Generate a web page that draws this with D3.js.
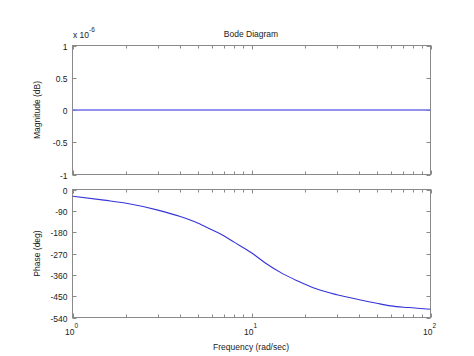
<!DOCTYPE html>
<html>
<head>
<meta charset="utf-8">
<script src="https://cdn.jsdelivr.net/npm/d3@7"></script>
<style>
  body { margin: 0; background: #fff; }
  text { font-family: "Liberation Sans", Arial, sans-serif; fill: #222; }
</style>
</head>
<body>
<script>
// frequencies (rad/sec) and read-off response values
var freq = [1, 1.5, 2, 3, 4, 5, 6, 7, 8, 10, 12, 15, 18, 23, 30, 40, 50, 60, 75, 100];
var phase = [-28, -45, -58, -87, -114, -141, -170, -195, -222, -267, -311, -356, -385, -419, -444, -465, -480, -491, -498, -505];
var magnitude = [0, 0, 0, 0, 0, 0, 0, 0, 0, 0, 0, 0, 0, 0, 0, 0, 0, 0, 0, 0];
var magTicks = [-1, -0.5, 0, 0.5, 1];
var phaseTicks = [0, -90, -180, -270, -360, -450, -540];
var decades = [1, 10, 100];

var W = 474, H = 356;
var left = 72.5, right = 430.5;
var top1 = 45.5, bot1 = 174.5, top2 = 189.5, bot2 = 317.5;

var svg = d3.select("body").append("svg")
    .attr("width", W)
    .attr("height", H);

var x = d3.scaleLog().domain([1, 100]).range([left, right]);
var yMag = d3.scaleLinear().domain([-1, 1]).range([bot1, top1]);
var yPh = d3.scaleLinear().domain([-540, 0]).range([bot2, top2]);

var minor = [];
[1, 10].forEach(function(d) {
    for (var k = 2; k <= 9; k++) minor.push(d * k);
});

function frame(yScale, ticks, y0, y1, fmt) {
    var g = svg.append("g");
    g.append("rect")
        .attr("x", left).attr("y", y0)
        .attr("width", right - left).attr("height", y1 - y0)
        .attr("fill", "none").attr("stroke", "#8a8a8a");
    // x ticks top and bottom
    var xt = decades.map(function(d) { return { v: d, len: 4 }; })
        .concat(minor.map(function(d) { return { v: d, len: 3 }; }));
    xt.forEach(function(t) {
        var px = Math.round(x(t.v)) + 0.5;
        g.append("line").attr("x1", px).attr("x2", px).attr("y1", y1).attr("y2", y1 - t.len)
            .attr("stroke", "#8a8a8a");
        g.append("line").attr("x1", px).attr("x2", px).attr("y1", y0).attr("y2", y0 + t.len)
            .attr("stroke", "#8a8a8a");
    });
    ticks.forEach(function(t) {
        var py = Math.round(yScale(t)) + 0.5;
        g.append("line").attr("x1", left).attr("x2", left + 4).attr("y1", py).attr("y2", py)
            .attr("stroke", "#8a8a8a");
        g.append("line").attr("x1", right).attr("x2", right - 4).attr("y1", py).attr("y2", py)
            .attr("stroke", "#8a8a8a");
        g.append("text")
            .attr("x", left - 5).attr("y", py + 3)
            .attr("text-anchor", "end")
            .attr("font-size", 8.5)
            .text(fmt(t));
    });
}

frame(yMag, magTicks, top1, bot1, function(d) { return d === 0 ? "0" : String(d); });
frame(yPh, phaseTicks, top2, bot2, function(d) { return String(d); });

// exponent label on magnitude axis
var ex = svg.append("text").attr("x", 73).attr("y", 38).attr("font-size", 8.5);
ex.append("tspan").text("x 10");
ex.append("tspan").attr("dy", -6).attr("font-size", 6.5).text("-6");

// x tick labels
decades.forEach(function(d, i) {
    var px = x(d);
    var t = svg.append("text").attr("x", px + 2).attr("y", 335).attr("font-size", 8.5)
        .attr("text-anchor", "end").text("10");
    svg.append("text").attr("x", px + 2).attr("y", 328).attr("font-size", 6.5).text(String(i));
});

var clip = svg.append("defs");
clip.append("clipPath").attr("id", "c1").append("rect")
    .attr("x", left).attr("y", top1).attr("width", right - left).attr("height", bot1 - top1);
clip.append("clipPath").attr("id", "c2").append("rect")
    .attr("x", left).attr("y", top2).attr("width", right - left).attr("height", bot2 - top2);

var magLine = d3.line()
    .x(function(d, i) { return x(freq[i]); })
    .y(function(d) { return yMag(d); });
var phLine = d3.line()
    .curve(d3.curveMonotoneX)
    .x(function(d, i) { return x(freq[i]); })
    .y(function(d) { return yPh(d); });

svg.append("path").datum(magnitude)
    .attr("clip-path", "url(#c1)")
    .attr("d", magLine)
    .attr("fill", "none").attr("stroke", "#6f6fea").attr("stroke-width", 1.6);

svg.append("path").datum(phase)
    .attr("clip-path", "url(#c2)")
    .attr("d", phLine)
    .attr("fill", "none").attr("stroke", "#3434d8").attr("stroke-width", 1.1);

// titles
svg.append("text").attr("x", 251).attr("y", 37).attr("text-anchor", "middle")
    .attr("font-size", 8.5).text("Bode Diagram");
svg.append("text").attr("x", 251).attr("y", 350).attr("text-anchor", "middle")
    .attr("font-size", 8.5).text("Frequency (rad/sec)");
svg.append("text").attr("transform", "translate(40," + ((top1 + bot1) / 2) + ") rotate(-90)")
    .attr("text-anchor", "middle").attr("font-size", 8.5).text("Magnitude (dB)");
svg.append("text").attr("transform", "translate(40," + ((top2 + bot2) / 2) + ") rotate(-90)")
    .attr("text-anchor", "middle").attr("font-size", 8.5).text("Phase (deg)");
</script>
</body>
</html>
